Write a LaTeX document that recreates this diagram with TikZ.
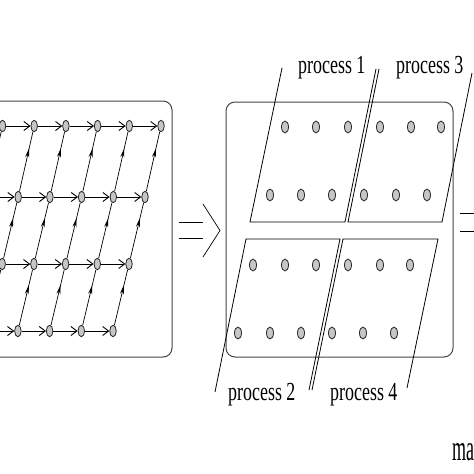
\documentclass[tikz,border=0pt]{standalone}
\usepackage{graphicx}
\usepackage{fontspec}
\setmainfont{Liberation Serif}
\usetikzlibrary{shapes.geometric,arrows.meta,decorations.markings}
\begin{document}
\begin{tikzpicture}[x=1pt,y=-1pt,
  dot/.style={ellipse,draw=black!85,fill=gray!45,line width=0.8pt,minimum width=6.5pt,minimum height=11.5pt,inner sep=0pt},
  hedge/.style={line width=0.9pt,-{Straight Barb[length=6pt,width=9pt,line width=0.9pt]}},
  dedge/.style={line width=0.7pt,postaction={decorate},decoration={markings,mark=at position 0.72 with {\arrow{Stealth[length=9pt,width=4pt]}}}},
  frame/.style={draw=gray!55!black,line width=1pt,rounded corners=9pt},
  part/.style={draw=black,line width=0.8pt},
  lbl/.style={font=\fontsize{26}{26}\selectfont,inner sep=0pt,anchor=base west},
  bigarrow/.style={draw=black,line width=0.9pt},
]
\useasboundingbox (0,0) rectangle (474,474);
\fill[white] (0,0) rectangle (474,474);
\clip (0,0) rectangle (474,474);

% ---------- left box with sheared lattice ----------
\draw[frame] (-40,101) rectangle (172,357);
\foreach \r/\yy/\n in {1/126/6, 2/197/5, 3/264/5, 4/331/4} {
  \foreach \j in {0,...,\n} {
    \pgfmathsetmacro\xx{161-16*(\r-1)-31.7*\j}
    \node[dot] (L\r-\j) at (\xx,\yy) {};
  }
}
\foreach \r/\n in {1/6,2/5,3/5,4/4} {
  \foreach \j [evaluate=\j as \k using int(\j-1)] in {1,...,\n}
    \draw[hedge] (L\r-\j) -- (L\r-\k);
}
\foreach \r/\n in {1/5,2/5,3/4} {
  \pgfmathtruncatemacro\rr{\r+1}
  \foreach \j in {0,...,\n}
    \draw[dedge] (L\rr-\j) -- (L\r-\j);
}

% ---------- arrow between boxes ----------
\coordinate (a1) at (179,222.7); \coordinate (a2) at (203,222.7);
\coordinate (a3) at (179,238.5); \coordinate (a4) at (203,238.5);
\coordinate (c1) at (203,204); \coordinate (c2) at (220,230.5); \coordinate (c3) at (203,257);
\draw[bigarrow] (a1) -- (a2) (a3) -- (a4);
\draw[bigarrow,line width=0.7pt] (c1) -- (c2) -- (c3);

% ---------- middle box ----------
\draw[frame] (226,102) rectangle (453,357);
\foreach \xx [count=\i] in {285,316,348,380,411,441} \node[dot,minimum width=7pt,minimum height=12pt] (U1-\i) at (\xx,127) {};
\foreach \xx [count=\i] in {270,301,332,364,396,427} \node[dot,minimum width=7pt,minimum height=12pt] (U2-\i) at (\xx,195) {};
\foreach \xx [count=\i] in {253,285,316,348,380,410} \node[dot,minimum width=7pt,minimum height=12pt] (D1-\i) at (\xx,265) {};
\foreach \xx [count=\i] in {238,270,301,332,363,394} \node[dot,minimum width=7pt,minimum height=12pt] (D2-\i) at (\xx,333) {};

% partitions (upper)
\draw[part] (282,68) -- (250,222) -- (345,222) -- (376,69);
\draw[part] (379,69) -- (348,222) -- (442,222) -- (472,73);
% partitions (lower)
\draw[part] (215,392) -- (246,239) -- (340,239) -- (309,390);
\draw[part] (312,390) -- (343,239) -- (438,239) -- (407,388);

% labels
\node[lbl] (p1) at (298,73) {\scalebox{0.69}[1]{process 1}};
\node[lbl] (p3) at (396,73) {\scalebox{0.69}[1]{process 3}};
\node[lbl] (p2) at (228,400) {\scalebox{0.69}[1]{process 2}};
\node[lbl] (p4) at (330,400) {\scalebox{0.69}[1]{process 4}};

% ---------- right edge fragments ----------
\coordinate (e1) at (460,213); \coordinate (e2) at (480,213);
\coordinate (e3) at (460,231); \coordinate (e4) at (480,231);
\draw[bigarrow] (e1) -- (e2) (e3) -- (e4);
\node[lbl,font=\fontsize{36}{36}\selectfont] (ma) at (452,460) {\scalebox{0.5}[1]{ma}};
\end{tikzpicture}
\end{document}
